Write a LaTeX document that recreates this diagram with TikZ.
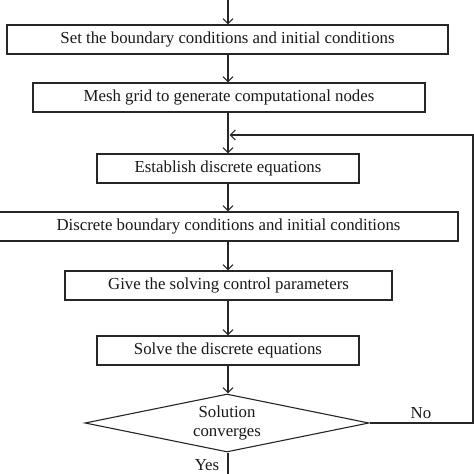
\documentclass[tikz,border=0pt]{standalone}
\usepackage{fontspec}
\setmainfont{Liberation Serif}
\usetikzlibrary{arrows.meta,shapes.geometric}
\begin{document}
\begin{tikzpicture}[x=1pt,y=-1pt,
  txt/.style={font=\fontsize{16.8}{19}\selectfont, text=black!90},
  box/.style={txt, draw=black!85, line width=1.1pt, minimum height=29pt, inner sep=0pt},
  ln/.style={draw=black!85, line width=1.1pt},
  arr/.style={ln, -{Straight Barb[length=5pt,width=10pt,line width=1.1pt]}}]
\useasboundingbox (0,0) rectangle (474,474);
\fill[white] (0,0) rectangle (474,474);
\coordinate (top) at (228,0);
\coordinate (mx) at (228,0);
\node[box, minimum width=441pt] (b1) at (227.5,39.5) {Set the boundary conditions and initial conditions};
\node[box, minimum width=392pt] (b2) at (229,97.5) {Mesh grid to generate computational nodes};
\node[box, minimum width=262pt] (b3) at (228,168.5) {Establish discrete equations};
\node[box, minimum width=459pt] (b4) at (228.5,226.5) {Discrete boundary conditions and initial conditions};
\node[box, minimum width=327pt] (b5) at (228.5,285.5) {Give the solving control parameters};
\node[box, minimum width=262pt] (b6) at (228,350.5) {Solve the discrete equations};
\node[txt, ln, diamond, aspect=4.9, minimum width=284pt, minimum height=58pt, inner sep=0pt, align=center] (d) at (227,423) {Solution\\converges};
\coordinate (j) at (229.5,135);
\coordinate (r) at (473,423);
\coordinate (bot) at (228,474);
\node[txt] (no) at (421,413) {No};
\node[txt] (yes) at (207,465) {Yes};
\draw[arr] (top) -- (b1.north -| mx);
\draw[arr] (b1.south -| mx) -- (b2.north -| mx);
\draw[arr] (b2.south -| mx) -- (b3.north -| mx);
\draw[arr] (b3.south -| mx) -- (b4.north -| mx);
\draw[arr] (b4.south -| mx) -- (b5.north -| mx);
\draw[arr] (b5.south -| mx) -- (b6.north -| mx);
\draw[arr] (b6.south -| mx) -- (d.north -| mx);
\draw[arr] (d.east) -- (r) |- (j);
\draw[ln] (d.south -| mx) -- (bot);
\end{tikzpicture}
\end{document}
